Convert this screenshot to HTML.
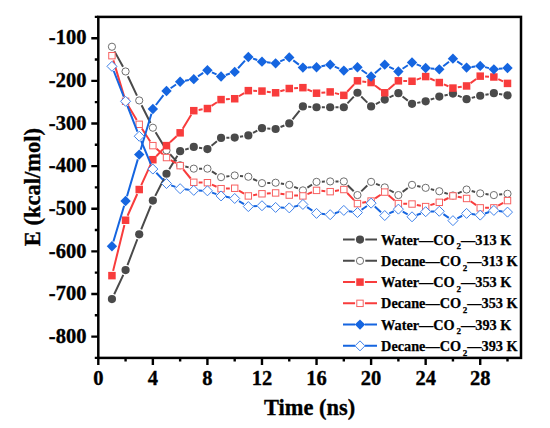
<!DOCTYPE html>
<html><head><meta charset="utf-8"><style>
html,body{margin:0;padding:0;background:#fff;width:550px;height:428px;overflow:hidden}
svg{display:block}
text{font-family:"Liberation Serif",serif}
</style></head><body>
<svg width="550" height="428" viewBox="0 0 550 428">
<rect x="98.3" y="16.9" width="422.7" height="341" fill="none" stroke="#000" stroke-width="2.5"/>
<path d="M91.3 38.21H98.3 M91.3 80.84H98.3 M91.3 123.46H98.3 M91.3 166.09H98.3 M91.3 208.71H98.3 M91.3 251.34H98.3 M91.3 293.96H98.3 M91.3 336.59H98.3 M94.8 16.9H98.3 M94.8 59.52H98.3 M94.8 102.15H98.3 M94.8 144.78H98.3 M94.8 187.4H98.3 M94.8 230.03H98.3 M94.8 272.65H98.3 M94.8 315.27H98.3 M94.8 357.9H98.3 M98.3 357.9V364.9 M152.86 357.9V364.9 M207.42 357.9V364.9 M261.98 357.9V364.9 M316.54 357.9V364.9 M371.1 357.9V364.9 M425.66 357.9V364.9 M480.22 357.9V364.9 M125.58 357.9V361.4 M180.14 357.9V361.4 M234.7 357.9V361.4 M289.26 357.9V361.4 M343.82 357.9V361.4 M398.38 357.9V361.4 M452.94 357.9V361.4 M507.5 357.9V361.4" stroke="#000" stroke-width="2.4" fill="none"/>
<g font-family="Liberation Serif" font-weight="bold" font-size="20.5" fill="#000" stroke="#000" stroke-width="0.35"><text x="86.4" y="44.41" text-anchor="end">-100</text><text x="86.4" y="87.04" text-anchor="end">-200</text><text x="86.4" y="129.66" text-anchor="end">-300</text><text x="86.4" y="172.29" text-anchor="end">-400</text><text x="86.4" y="214.91" text-anchor="end">-500</text><text x="86.4" y="257.54" text-anchor="end">-600</text><text x="86.4" y="300.16" text-anchor="end">-700</text><text x="86.4" y="342.79" text-anchor="end">-800</text><text x="98.3" y="385.3" text-anchor="middle">0</text><text x="152.86" y="385.3" text-anchor="middle">4</text><text x="207.42" y="385.3" text-anchor="middle">8</text><text x="261.98" y="385.3" text-anchor="middle">12</text><text x="316.54" y="385.3" text-anchor="middle">16</text><text x="371.1" y="385.3" text-anchor="middle">20</text><text x="425.66" y="385.3" text-anchor="middle">24</text><text x="480.22" y="385.3" text-anchor="middle">28</text></g>
<text x="309.6" y="414.7" text-anchor="middle" font-family="Liberation Serif" font-weight="bold" font-size="22.4" stroke="#000" stroke-width="0.35">Time (ns)</text>
<text transform="translate(40.3 187.1) rotate(-90)" text-anchor="middle" font-family="Liberation Serif" font-weight="bold" font-size="22.5" stroke="#000" stroke-width="0.35">E (kcal/mol)</text>
<path d="M114.2 294.28L123.32 274.89M127.47 265.14L137.33 239.24M141.21 229.38L150.87 205.53M155.26 195.89L164.1 178.49M169.24 169.22L177.4 155.71M185.2 149.59L188.72 148.49M199.02 147.72L202.18 148.22M211.53 145.7L216.95 141.3M226.36 137.79L229.4 137.69M239.94 136.71L243.1 136.22M253.02 132.91L257.3 130.64M267.27 128.48L270.33 128.67M280.53 127.01L284.35 125.46M292.57 119.32L299.59 110.55M308.19 106.74L311.25 106.93M321.84 107.26L324.88 107.26M335.48 107.26L338.52 107.26M347.45 103.41L353.83 96.63M361.21 96.52L367.35 102.66M375.84 104.04L380 101.96M389.54 97.34L393.58 95.45M402.56 96.46L407.84 100.59M417.23 102.88L420.45 102.27M430.67 99.57L434.29 98.33M444.48 95.48L447.76 94.76M457.85 95.62L461.67 97.17M471.72 97.88L475.08 97.04M485.43 94.78L488.65 94.18M499.1 94.02L502.26 94.51" fill="none" stroke="#4a4a4a" stroke-width="2.0" stroke-linecap="butt"/>
<circle cx="111.94" cy="299.08" r="4.1" fill="#4a4a4a"/>
<circle cx="125.58" cy="270.09" r="4.1" fill="#4a4a4a"/>
<circle cx="139.22" cy="234.29" r="4.1" fill="#4a4a4a"/>
<circle cx="152.86" cy="200.61" r="4.1" fill="#4a4a4a"/>
<circle cx="166.5" cy="173.76" r="4.1" fill="#4a4a4a"/>
<circle cx="180.14" cy="151.17" r="4.1" fill="#4a4a4a"/>
<circle cx="193.78" cy="146.91" r="4.1" fill="#4a4a4a"/>
<circle cx="207.42" cy="149.04" r="4.1" fill="#4a4a4a"/>
<circle cx="221.06" cy="137.96" r="4.1" fill="#4a4a4a"/>
<circle cx="234.7" cy="137.53" r="4.1" fill="#4a4a4a"/>
<circle cx="248.34" cy="135.4" r="4.1" fill="#4a4a4a"/>
<circle cx="261.98" cy="128.15" r="4.1" fill="#4a4a4a"/>
<circle cx="275.62" cy="129" r="4.1" fill="#4a4a4a"/>
<circle cx="289.26" cy="123.46" r="4.1" fill="#4a4a4a"/>
<circle cx="302.9" cy="106.41" r="4.1" fill="#4a4a4a"/>
<circle cx="316.54" cy="107.26" r="4.1" fill="#4a4a4a"/>
<circle cx="330.18" cy="107.26" r="4.1" fill="#4a4a4a"/>
<circle cx="343.82" cy="107.26" r="4.1" fill="#4a4a4a"/>
<circle cx="357.46" cy="92.77" r="4.1" fill="#4a4a4a"/>
<circle cx="371.1" cy="106.41" r="4.1" fill="#4a4a4a"/>
<circle cx="384.74" cy="99.59" r="4.1" fill="#4a4a4a"/>
<circle cx="398.38" cy="93.2" r="4.1" fill="#4a4a4a"/>
<circle cx="412.02" cy="103.85" r="4.1" fill="#4a4a4a"/>
<circle cx="425.66" cy="101.3" r="4.1" fill="#4a4a4a"/>
<circle cx="439.3" cy="96.61" r="4.1" fill="#4a4a4a"/>
<circle cx="452.94" cy="93.62" r="4.1" fill="#4a4a4a"/>
<circle cx="466.58" cy="99.17" r="4.1" fill="#4a4a4a"/>
<circle cx="480.22" cy="95.76" r="4.1" fill="#4a4a4a"/>
<circle cx="493.86" cy="93.2" r="4.1" fill="#4a4a4a"/>
<circle cx="507.5" cy="95.33" r="4.1" fill="#4a4a4a"/>
<path d="M114.5 51.38L123.02 66.82M127.84 76.26L136.96 95.65M141.59 105.19L150.49 122.98M155.6 132.26L163.76 145.78M170.08 154.23L176.56 161.32M185.28 166.52L188.64 167.36M199.08 168.65L202.12 168.65M211.91 171.45L216.57 174.36M226.32 176.51L229.44 176.12M239.98 175.96L243.06 176.25M253.14 178.99L257.18 180.89M267.28 182.97L270.32 182.88M280.86 183.53L284.02 184.02M294.17 186.84L297.99 188.39M307.39 187.57L312.05 184.67M321.84 181.69L324.88 181.6M335.48 181.43L338.52 181.43M347.57 185.18L353.71 191.32M361.27 191.38L367.29 185.55M376.01 183.85L379.83 185.41M389.36 190L393.76 192.47M402.62 191.89L407.78 188.02M417.2 185.98L420.48 186.69M430.8 189.11L434.16 189.95M444.36 192.82L447.88 193.92M457.8 193.37L461.72 191.66M471.68 190.97L475.12 191.93M485.48 194.02L488.6 194.42M499.14 194.58L502.22 194.29" fill="none" stroke="#4a4a4a" stroke-width="2.0" stroke-linecap="butt"/>
<circle cx="111.94" cy="46.74" r="3.5999999999999996" fill="#fff" stroke="#6e6e6e" stroke-width="1"/>
<circle cx="125.58" cy="71.46" r="3.5999999999999996" fill="#fff" stroke="#6e6e6e" stroke-width="1"/>
<circle cx="139.22" cy="100.44" r="3.5999999999999996" fill="#fff" stroke="#6e6e6e" stroke-width="1"/>
<circle cx="152.86" cy="127.72" r="3.5999999999999996" fill="#fff" stroke="#6e6e6e" stroke-width="1"/>
<circle cx="166.5" cy="150.32" r="3.5999999999999996" fill="#fff" stroke="#6e6e6e" stroke-width="1"/>
<circle cx="180.14" cy="165.24" r="3.5999999999999996" fill="#fff" stroke="#6e6e6e" stroke-width="1"/>
<circle cx="193.78" cy="168.65" r="3.5999999999999996" fill="#fff" stroke="#6e6e6e" stroke-width="1"/>
<circle cx="207.42" cy="168.65" r="3.5999999999999996" fill="#fff" stroke="#6e6e6e" stroke-width="1"/>
<circle cx="221.06" cy="177.17" r="3.5999999999999996" fill="#fff" stroke="#6e6e6e" stroke-width="1"/>
<circle cx="234.7" cy="175.47" r="3.5999999999999996" fill="#fff" stroke="#6e6e6e" stroke-width="1"/>
<circle cx="248.34" cy="176.74" r="3.5999999999999996" fill="#fff" stroke="#6e6e6e" stroke-width="1"/>
<circle cx="261.98" cy="183.14" r="3.5999999999999996" fill="#fff" stroke="#6e6e6e" stroke-width="1"/>
<circle cx="275.62" cy="182.71" r="3.5999999999999996" fill="#fff" stroke="#6e6e6e" stroke-width="1"/>
<circle cx="289.26" cy="184.84" r="3.5999999999999996" fill="#fff" stroke="#6e6e6e" stroke-width="1"/>
<circle cx="302.9" cy="190.38" r="3.5999999999999996" fill="#fff" stroke="#6e6e6e" stroke-width="1"/>
<circle cx="316.54" cy="181.86" r="3.5999999999999996" fill="#fff" stroke="#6e6e6e" stroke-width="1"/>
<circle cx="330.18" cy="181.43" r="3.5999999999999996" fill="#fff" stroke="#6e6e6e" stroke-width="1"/>
<circle cx="343.82" cy="181.43" r="3.5999999999999996" fill="#fff" stroke="#6e6e6e" stroke-width="1"/>
<circle cx="357.46" cy="195.07" r="3.5999999999999996" fill="#fff" stroke="#6e6e6e" stroke-width="1"/>
<circle cx="371.1" cy="181.86" r="3.5999999999999996" fill="#fff" stroke="#6e6e6e" stroke-width="1"/>
<circle cx="384.74" cy="187.4" r="3.5999999999999996" fill="#fff" stroke="#6e6e6e" stroke-width="1"/>
<circle cx="398.38" cy="195.07" r="3.5999999999999996" fill="#fff" stroke="#6e6e6e" stroke-width="1"/>
<circle cx="412.02" cy="184.84" r="3.5999999999999996" fill="#fff" stroke="#6e6e6e" stroke-width="1"/>
<circle cx="425.66" cy="187.83" r="3.5999999999999996" fill="#fff" stroke="#6e6e6e" stroke-width="1"/>
<circle cx="439.3" cy="191.24" r="3.5999999999999996" fill="#fff" stroke="#6e6e6e" stroke-width="1"/>
<circle cx="452.94" cy="195.5" r="3.5999999999999996" fill="#fff" stroke="#6e6e6e" stroke-width="1"/>
<circle cx="466.58" cy="189.53" r="3.5999999999999996" fill="#fff" stroke="#6e6e6e" stroke-width="1"/>
<circle cx="480.22" cy="193.37" r="3.5999999999999996" fill="#fff" stroke="#6e6e6e" stroke-width="1"/>
<circle cx="493.86" cy="195.07" r="3.5999999999999996" fill="#fff" stroke="#6e6e6e" stroke-width="1"/>
<circle cx="507.5" cy="193.79" r="3.5999999999999996" fill="#fff" stroke="#6e6e6e" stroke-width="1"/>
<path d="M113.11 270.88L124.41 224.98M127.57 215.74L137.23 194.01M141.26 185.07L150.82 164.15M156.27 156.18L163.09 149.15M170.07 142.28L176.57 136.19M182.71 128.67L191.21 114.85M198.62 109.92L202.58 109.3M211.52 105.86L216.96 102.28M225.95 99.29L229.81 99.05M238.91 96.24L244.13 93.14M253.24 90.79L257.08 90.91M266.84 91.68L270.76 92.16M280.3 91.31L284.58 89.97M294.15 88.2L298.01 87.96M307.44 89.5L312 91.35M321.42 92.74L325.3 92.38M334.93 93.11L339.07 94.14M347.18 91.76L354.1 84.41M362.32 81.45L366.24 81.93M375.02 85.48L380.82 89.83M388.43 89.55L394.69 84.06M403.28 80.99L407.12 81.11M416.65 79.67L421.03 78.17M430.15 78.54L434.81 80.58M443.84 84.39L448.4 86.24M457.78 87.33L461.74 86.71M470.56 83.09L476.24 79.01M485.11 76.45L488.97 76.7M498.3 79.08L503.06 81.32" fill="none" stroke="#f83c3c" stroke-width="2.0" stroke-linecap="butt"/>
<rect x="108.19" y="271.88" width="7.5" height="7.5" fill="#f83c3c"/>
<rect x="121.83" y="216.47" width="7.5" height="7.5" fill="#f83c3c"/>
<rect x="135.47" y="185.78" width="7.5" height="7.5" fill="#f83c3c"/>
<rect x="149.11" y="155.94" width="7.5" height="7.5" fill="#f83c3c"/>
<rect x="162.75" y="141.88" width="7.5" height="7.5" fill="#f83c3c"/>
<rect x="176.39" y="129.09" width="7.5" height="7.5" fill="#f83c3c"/>
<rect x="190.03" y="106.93" width="7.5" height="7.5" fill="#f83c3c"/>
<rect x="203.67" y="104.79" width="7.5" height="7.5" fill="#f83c3c"/>
<rect x="217.31" y="95.84" width="7.5" height="7.5" fill="#f83c3c"/>
<rect x="230.95" y="94.99" width="7.5" height="7.5" fill="#f83c3c"/>
<rect x="244.59" y="86.89" width="7.5" height="7.5" fill="#f83c3c"/>
<rect x="258.23" y="87.32" width="7.5" height="7.5" fill="#f83c3c"/>
<rect x="271.87" y="89.02" width="7.5" height="7.5" fill="#f83c3c"/>
<rect x="285.51" y="84.76" width="7.5" height="7.5" fill="#f83c3c"/>
<rect x="299.15" y="83.91" width="7.5" height="7.5" fill="#f83c3c"/>
<rect x="312.79" y="89.45" width="7.5" height="7.5" fill="#f83c3c"/>
<rect x="326.43" y="88.17" width="7.5" height="7.5" fill="#f83c3c"/>
<rect x="340.07" y="91.58" width="7.5" height="7.5" fill="#f83c3c"/>
<rect x="353.71" y="77.09" width="7.5" height="7.5" fill="#f83c3c"/>
<rect x="367.35" y="78.79" width="7.5" height="7.5" fill="#f83c3c"/>
<rect x="380.99" y="89.02" width="7.5" height="7.5" fill="#f83c3c"/>
<rect x="394.63" y="77.09" width="7.5" height="7.5" fill="#f83c3c"/>
<rect x="408.27" y="77.51" width="7.5" height="7.5" fill="#f83c3c"/>
<rect x="421.91" y="72.82" width="7.5" height="7.5" fill="#f83c3c"/>
<rect x="435.55" y="78.79" width="7.5" height="7.5" fill="#f83c3c"/>
<rect x="449.19" y="84.33" width="7.5" height="7.5" fill="#f83c3c"/>
<rect x="462.83" y="82.2" width="7.5" height="7.5" fill="#f83c3c"/>
<rect x="476.47" y="72.4" width="7.5" height="7.5" fill="#f83c3c"/>
<rect x="490.11" y="73.25" width="7.5" height="7.5" fill="#f83c3c"/>
<rect x="503.75" y="79.65" width="7.5" height="7.5" fill="#f83c3c"/>
<path d="M113.34 60.38L124.18 96.6M128.08 105.51L136.72 120.1M141.86 128.44L150.22 141.5M156.55 148.85L162.81 154.34M170.71 160.06L175.93 163.16M183.25 169.45L190.67 178.5M198.68 182.44L202.52 182.56M211.91 184.68L216.57 186.71M225.96 188.53L229.8 188.41M238.97 190.65L244.07 193.52M253.18 195.17L257.14 194.55M266.87 193.49L270.73 193.25M280.46 193.7L284.42 194.32M294.15 195.38L298.01 195.62M307.44 194.08L312 192.23M321.42 190.84L325.3 191.21M335.02 190.91L338.98 190.29M347.23 193.05L354.05 200.08M362.28 202.69L366.28 201.94M375.2 198.35L380.64 194.78M388.49 195.25L394.63 200.44M403.28 203.75L407.12 203.87M416.84 204.93L420.84 205.68M430.34 205.12L434.62 203.78M443.74 200.24L448.5 198M457.76 196.83L461.76 197.58M470.62 201.26L476.18 205.08M485.12 207.86L488.96 207.86M498.19 205.56L503.17 202.91" fill="none" stroke="#f83c3c" stroke-width="2.0" stroke-linecap="butt"/>
<rect x="108.74" y="52.49" width="6.4" height="6.4" fill="#fff" stroke="#f76060" stroke-width="1"/>
<rect x="122.38" y="98.1" width="6.4" height="6.4" fill="#fff" stroke="#f76060" stroke-width="1"/>
<rect x="136.02" y="121.11" width="6.4" height="6.4" fill="#fff" stroke="#f76060" stroke-width="1"/>
<rect x="149.66" y="142.43" width="6.4" height="6.4" fill="#fff" stroke="#f76060" stroke-width="1"/>
<rect x="163.3" y="154.36" width="6.4" height="6.4" fill="#fff" stroke="#f76060" stroke-width="1"/>
<rect x="176.94" y="162.46" width="6.4" height="6.4" fill="#fff" stroke="#f76060" stroke-width="1"/>
<rect x="190.58" y="179.09" width="6.4" height="6.4" fill="#fff" stroke="#f76060" stroke-width="1"/>
<rect x="204.22" y="179.51" width="6.4" height="6.4" fill="#fff" stroke="#f76060" stroke-width="1"/>
<rect x="217.86" y="185.48" width="6.4" height="6.4" fill="#fff" stroke="#f76060" stroke-width="1"/>
<rect x="231.5" y="185.05" width="6.4" height="6.4" fill="#fff" stroke="#f76060" stroke-width="1"/>
<rect x="245.14" y="192.73" width="6.4" height="6.4" fill="#fff" stroke="#f76060" stroke-width="1"/>
<rect x="258.78" y="190.59" width="6.4" height="6.4" fill="#fff" stroke="#f76060" stroke-width="1"/>
<rect x="272.42" y="189.74" width="6.4" height="6.4" fill="#fff" stroke="#f76060" stroke-width="1"/>
<rect x="286.06" y="191.87" width="6.4" height="6.4" fill="#fff" stroke="#f76060" stroke-width="1"/>
<rect x="299.7" y="192.73" width="6.4" height="6.4" fill="#fff" stroke="#f76060" stroke-width="1"/>
<rect x="313.34" y="187.18" width="6.4" height="6.4" fill="#fff" stroke="#f76060" stroke-width="1"/>
<rect x="326.98" y="188.46" width="6.4" height="6.4" fill="#fff" stroke="#f76060" stroke-width="1"/>
<rect x="340.62" y="186.33" width="6.4" height="6.4" fill="#fff" stroke="#f76060" stroke-width="1"/>
<rect x="354.26" y="200.4" width="6.4" height="6.4" fill="#fff" stroke="#f76060" stroke-width="1"/>
<rect x="367.9" y="197.84" width="6.4" height="6.4" fill="#fff" stroke="#f76060" stroke-width="1"/>
<rect x="381.54" y="188.89" width="6.4" height="6.4" fill="#fff" stroke="#f76060" stroke-width="1"/>
<rect x="395.18" y="200.4" width="6.4" height="6.4" fill="#fff" stroke="#f76060" stroke-width="1"/>
<rect x="408.82" y="200.82" width="6.4" height="6.4" fill="#fff" stroke="#f76060" stroke-width="1"/>
<rect x="422.46" y="203.38" width="6.4" height="6.4" fill="#fff" stroke="#f76060" stroke-width="1"/>
<rect x="436.1" y="199.12" width="6.4" height="6.4" fill="#fff" stroke="#f76060" stroke-width="1"/>
<rect x="449.74" y="192.73" width="6.4" height="6.4" fill="#fff" stroke="#f76060" stroke-width="1"/>
<rect x="463.38" y="195.28" width="6.4" height="6.4" fill="#fff" stroke="#f76060" stroke-width="1"/>
<rect x="477.02" y="204.66" width="6.4" height="6.4" fill="#fff" stroke="#f76060" stroke-width="1"/>
<rect x="490.66" y="204.66" width="6.4" height="6.4" fill="#fff" stroke="#f76060" stroke-width="1"/>
<rect x="504.3" y="197.41" width="6.4" height="6.4" fill="#fff" stroke="#f76060" stroke-width="1"/>
<path d="M113.39 241.44L124.13 205.83M126.99 196.24L137.81 159.38M140.65 149.79L151.43 113.76M155.89 104.99L163.47 95.04M170.62 88.23L176.02 84.52M185.05 80.77L188.87 80.05M197.96 76.39L203.24 72.92M211.95 72.3L216.53 74.45M225.79 74.95L229.97 73.51M238.07 68.2L244.97 60.66M253.07 58.59L257.25 60.03M266.94 62.28L270.66 62.74M280.2 61.36L284.68 59.4M293.26 60.39L298.9 64.62M307.9 67.47L311.54 67.35M321.45 66.28L325.27 65.56M334.76 66.64L339.24 68.6M348.67 69.39L352.61 68.41M361.58 70.03L366.98 73.74M374.86 73.28L380.98 67.93M389.21 66.88L393.91 69.22M402.56 68.72L407.84 65.25M416.65 64.39L421.03 66.17M430.64 68.52L434.32 68.86M443.24 66.25L449 61.75M457.12 61.42L462.4 64.88M471.54 67L475.26 66.54M485.07 67.13L489.01 68.12M498.84 68.86L502.52 68.52" fill="none" stroke="#1565e0" stroke-width="2.0" stroke-linecap="butt"/>
<path d="M111.94 241.02L117.14 246.22L111.94 251.42L106.74 246.22Z" fill="#1565e0"/>
<path d="M125.58 195.84L130.78 201.04L125.58 206.24L120.38 201.04Z" fill="#1565e0"/>
<path d="M139.22 149.38L144.42 154.58L139.22 159.78L134.02 154.58Z" fill="#1565e0"/>
<path d="M152.86 103.77L158.06 108.97L152.86 114.17L147.66 108.97Z" fill="#1565e0"/>
<path d="M166.5 85.87L171.7 91.07L166.5 96.27L161.3 91.07Z" fill="#1565e0"/>
<path d="M180.14 76.49L185.34 81.69L180.14 86.89L174.94 81.69Z" fill="#1565e0"/>
<path d="M193.78 73.93L198.98 79.13L193.78 84.33L188.58 79.13Z" fill="#1565e0"/>
<path d="M207.42 64.98L212.62 70.18L207.42 75.38L202.22 70.18Z" fill="#1565e0"/>
<path d="M221.06 71.37L226.26 76.57L221.06 81.77L215.86 76.57Z" fill="#1565e0"/>
<path d="M234.7 66.69L239.9 71.89L234.7 77.09L229.5 71.89Z" fill="#1565e0"/>
<path d="M248.34 51.77L253.54 56.97L248.34 62.17L243.14 56.97Z" fill="#1565e0"/>
<path d="M261.98 56.46L267.18 61.66L261.98 66.86L256.78 61.66Z" fill="#1565e0"/>
<path d="M275.62 58.16L280.82 63.36L275.62 68.56L270.42 63.36Z" fill="#1565e0"/>
<path d="M289.26 52.19L294.46 57.39L289.26 62.59L284.06 57.39Z" fill="#1565e0"/>
<path d="M302.9 62.42L308.1 67.62L302.9 72.82L297.7 67.62Z" fill="#1565e0"/>
<path d="M316.54 62L321.74 67.2L316.54 72.4L311.34 67.2Z" fill="#1565e0"/>
<path d="M330.18 59.44L335.38 64.64L330.18 69.84L324.98 64.64Z" fill="#1565e0"/>
<path d="M343.82 65.41L349.02 70.61L343.82 75.81L338.62 70.61Z" fill="#1565e0"/>
<path d="M357.46 62L362.66 67.2L357.46 72.4L352.26 67.2Z" fill="#1565e0"/>
<path d="M371.1 71.37L376.3 76.57L371.1 81.77L365.9 76.57Z" fill="#1565e0"/>
<path d="M384.74 59.44L389.94 64.64L384.74 69.84L379.54 64.64Z" fill="#1565e0"/>
<path d="M398.38 66.26L403.58 71.46L398.38 76.66L393.18 71.46Z" fill="#1565e0"/>
<path d="M412.02 57.31L417.22 62.51L412.02 67.71L406.82 62.51Z" fill="#1565e0"/>
<path d="M425.66 62.85L430.86 68.05L425.66 73.25L420.46 68.05Z" fill="#1565e0"/>
<path d="M439.3 64.13L444.5 69.33L439.3 74.53L434.1 69.33Z" fill="#1565e0"/>
<path d="M452.94 53.47L458.14 58.67L452.94 63.87L447.74 58.67Z" fill="#1565e0"/>
<path d="M466.58 62.42L471.78 67.62L466.58 72.82L461.38 67.62Z" fill="#1565e0"/>
<path d="M480.22 60.72L485.42 65.92L480.22 71.12L475.02 65.92Z" fill="#1565e0"/>
<path d="M493.86 64.13L499.06 69.33L493.86 74.53L488.66 69.33Z" fill="#1565e0"/>
<path d="M507.5 62.85L512.7 68.05L507.5 73.25L502.3 68.05Z" fill="#1565e0"/>
<path d="M113.76 71L123.76 96.64M127.4 105.96L137.4 131.59M141.14 140.87L150.94 164.45M156.29 172.71L163.07 179.92M171.18 185.32L175.46 186.92M185.1 189.3L188.82 189.76M198.78 190.54L202.42 190.65M212.1 192.57L216.38 194.17M225.97 196.85L229.79 197.56M239 201.04L244.04 204.03M253.33 206.27L256.99 206.04M266.94 206.35L270.66 206.81M280.62 207.59L284.26 207.7M294.11 206.65L298.05 205.66M307.08 207.19L312.36 210.66M321.52 213.87L325.2 214.21M334.95 213.19L339.05 211.91M348.76 211.19L352.52 211.78M361.58 209.72L366.98 206M374.8 206.53L381.04 212.17M389.27 213.41L393.85 211.26M402.74 211.59L407.66 214.36M416.7 215.06L420.98 213.45M430.66 211.54L434.3 211.43M443.42 214.1L448.82 217.81M457.36 218.3L462.16 215.75M471.54 214.02L475.26 214.49M484.95 213.48L489.13 212.04M498.82 211.04L502.54 211.5" fill="none" stroke="#1565e0" stroke-width="2.0" stroke-linecap="butt"/>
<path d="M111.94 61.34L116.94 66.34L111.94 71.34L106.94 66.34Z" fill="#fff" stroke="#3f82ea" stroke-width="1"/>
<path d="M125.58 96.3L130.58 101.3L125.58 106.3L120.58 101.3Z" fill="#fff" stroke="#3f82ea" stroke-width="1"/>
<path d="M139.22 131.25L144.22 136.25L139.22 141.25L134.22 136.25Z" fill="#fff" stroke="#3f82ea" stroke-width="1"/>
<path d="M152.86 164.07L157.86 169.07L152.86 174.07L147.86 169.07Z" fill="#fff" stroke="#3f82ea" stroke-width="1"/>
<path d="M166.5 178.56L171.5 183.56L166.5 188.56L161.5 183.56Z" fill="#fff" stroke="#3f82ea" stroke-width="1"/>
<path d="M180.14 183.68L185.14 188.68L180.14 193.68L175.14 188.68Z" fill="#fff" stroke="#3f82ea" stroke-width="1"/>
<path d="M193.78 185.38L198.78 190.38L193.78 195.38L188.78 190.38Z" fill="#fff" stroke="#3f82ea" stroke-width="1"/>
<path d="M207.42 185.81L212.42 190.81L207.42 195.81L202.42 190.81Z" fill="#fff" stroke="#3f82ea" stroke-width="1"/>
<path d="M221.06 190.93L226.06 195.93L221.06 200.93L216.06 195.93Z" fill="#fff" stroke="#3f82ea" stroke-width="1"/>
<path d="M234.7 193.48L239.7 198.48L234.7 203.48L229.7 198.48Z" fill="#fff" stroke="#3f82ea" stroke-width="1"/>
<path d="M248.34 201.58L253.34 206.58L248.34 211.58L243.34 206.58Z" fill="#fff" stroke="#3f82ea" stroke-width="1"/>
<path d="M261.98 200.73L266.98 205.73L261.98 210.73L256.98 205.73Z" fill="#fff" stroke="#3f82ea" stroke-width="1"/>
<path d="M275.62 202.43L280.62 207.43L275.62 212.43L270.62 207.43Z" fill="#fff" stroke="#3f82ea" stroke-width="1"/>
<path d="M289.26 202.86L294.26 207.86L289.26 212.86L284.26 207.86Z" fill="#fff" stroke="#3f82ea" stroke-width="1"/>
<path d="M302.9 199.45L307.9 204.45L302.9 209.45L297.9 204.45Z" fill="#fff" stroke="#3f82ea" stroke-width="1"/>
<path d="M316.54 208.4L321.54 213.4L316.54 218.4L311.54 213.4Z" fill="#fff" stroke="#3f82ea" stroke-width="1"/>
<path d="M330.18 209.68L335.18 214.68L330.18 219.68L325.18 214.68Z" fill="#fff" stroke="#3f82ea" stroke-width="1"/>
<path d="M343.82 205.42L348.82 210.42L343.82 215.42L338.82 210.42Z" fill="#fff" stroke="#3f82ea" stroke-width="1"/>
<path d="M357.46 207.55L362.46 212.55L357.46 217.55L352.46 212.55Z" fill="#fff" stroke="#3f82ea" stroke-width="1"/>
<path d="M371.1 198.17L376.1 203.17L371.1 208.17L366.1 203.17Z" fill="#fff" stroke="#3f82ea" stroke-width="1"/>
<path d="M384.74 210.53L389.74 215.53L384.74 220.53L379.74 215.53Z" fill="#fff" stroke="#3f82ea" stroke-width="1"/>
<path d="M398.38 204.14L403.38 209.14L398.38 214.14L393.38 209.14Z" fill="#fff" stroke="#3f82ea" stroke-width="1"/>
<path d="M412.02 211.81L417.02 216.81L412.02 221.81L407.02 216.81Z" fill="#fff" stroke="#3f82ea" stroke-width="1"/>
<path d="M425.66 206.7L430.66 211.7L425.66 216.7L420.66 211.7Z" fill="#fff" stroke="#3f82ea" stroke-width="1"/>
<path d="M439.3 206.27L444.3 211.27L439.3 216.27L434.3 211.27Z" fill="#fff" stroke="#3f82ea" stroke-width="1"/>
<path d="M452.94 215.65L457.94 220.65L452.94 225.65L447.94 220.65Z" fill="#fff" stroke="#3f82ea" stroke-width="1"/>
<path d="M466.58 208.4L471.58 213.4L466.58 218.4L461.58 213.4Z" fill="#fff" stroke="#3f82ea" stroke-width="1"/>
<path d="M480.22 210.11L485.22 215.11L480.22 220.11L475.22 215.11Z" fill="#fff" stroke="#3f82ea" stroke-width="1"/>
<path d="M493.86 205.42L498.86 210.42L493.86 215.42L488.86 210.42Z" fill="#fff" stroke="#3f82ea" stroke-width="1"/>
<path d="M507.5 207.12L512.5 212.12L507.5 217.12L502.5 212.12Z" fill="#fff" stroke="#3f82ea" stroke-width="1"/>
<path d="M343 239.6H354.7M365.3 239.6H377" stroke="#4a4a4a" stroke-width="2.0"/>
<circle cx="360" cy="239.6" r="4.1" fill="#4a4a4a"/>
<text x="381.1" y="244.6" font-family="Liberation Serif" font-weight="bold" font-size="14.25" stroke="#000" stroke-width="0.25">Water—CO<tspan font-size="9" dx="1.8" dy="4.8">2</tspan><tspan dy="-4.8">—313 K</tspan></text>
<path d="M343 260.85H354.7M365.3 260.85H377" stroke="#4a4a4a" stroke-width="2.0"/>
<circle cx="360" cy="260.85" r="3.5999999999999996" fill="#fff" stroke="#6e6e6e" stroke-width="1"/>
<text x="381.1" y="265.85" font-family="Liberation Serif" font-weight="bold" font-size="14.25" stroke="#000" stroke-width="0.25">Decane—CO<tspan font-size="9" dx="1.8" dy="4.8">2</tspan><tspan dy="-4.8">—313 K</tspan></text>
<path d="M343 282.1H355.1M364.9 282.1H377" stroke="#f83c3c" stroke-width="2.0"/>
<rect x="356.25" y="278.35" width="7.5" height="7.5" fill="#f83c3c"/>
<text x="381.1" y="287.1" font-family="Liberation Serif" font-weight="bold" font-size="14.25" stroke="#000" stroke-width="0.25">Water—CO<tspan font-size="9" dx="1.8" dy="4.8">2</tspan><tspan dy="-4.8">—353 K</tspan></text>
<path d="M343 303.35H355.1M364.9 303.35H377" stroke="#f83c3c" stroke-width="2.0"/>
<rect x="356.8" y="300.15" width="6.4" height="6.4" fill="#fff" stroke="#f76060" stroke-width="1"/>
<text x="381.1" y="308.35" font-family="Liberation Serif" font-weight="bold" font-size="14.25" stroke="#000" stroke-width="0.25">Decane—CO<tspan font-size="9" dx="1.8" dy="4.8">2</tspan><tspan dy="-4.8">—353 K</tspan></text>
<path d="M343 324.6H355M365 324.6H377" stroke="#1565e0" stroke-width="2.0"/>
<path d="M360 319.4L365.2 324.6L360 329.8L354.8 324.6Z" fill="#1565e0"/>
<text x="381.1" y="329.6" font-family="Liberation Serif" font-weight="bold" font-size="14.25" stroke="#000" stroke-width="0.25">Water—CO<tspan font-size="9" dx="1.8" dy="4.8">2</tspan><tspan dy="-4.8">—393 K</tspan></text>
<path d="M343 345.85H355M365 345.85H377" stroke="#1565e0" stroke-width="2.0"/>
<path d="M360 340.85L365 345.85L360 350.85L355 345.85Z" fill="#fff" stroke="#3f82ea" stroke-width="1"/>
<text x="381.1" y="350.85" font-family="Liberation Serif" font-weight="bold" font-size="14.25" stroke="#000" stroke-width="0.25">Decane—CO<tspan font-size="9" dx="1.8" dy="4.8">2</tspan><tspan dy="-4.8">—393 K</tspan></text>
</svg>
</body></html>
